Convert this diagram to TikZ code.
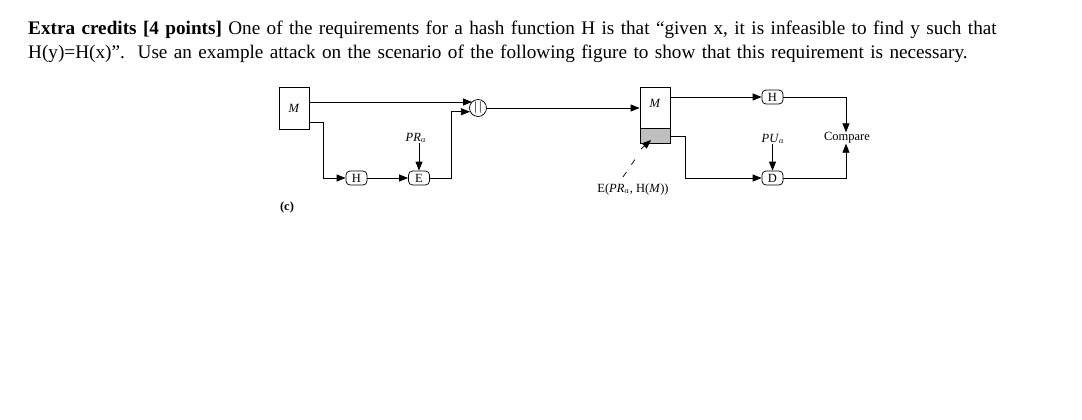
\documentclass[tikz,border=0pt]{standalone}
\usepackage{fontspec}
\setmainfont{Liberation Serif}
\usetikzlibrary{arrows.meta}
\begin{document}
\begin{tikzpicture}[x=1pt,y=-1pt,
  ln/.style={line width=0.75pt},
  ar/.style={ln,-{Triangle[length=9pt,width=7pt]}},
  op/.style={draw,ln,rounded corners=4pt,minimum width=21pt,minimum height=14pt,inner sep=0pt,font=\fontsize{12.5}{12}\selectfont},
  lb/.style={font=\fontsize{12.5}{13}\selectfont,inner sep=0pt}]
\useasboundingbox (0,0) rectangle (1082,420);
\node[anchor=north west,text width=1010pt,align=left,inner sep=0pt,font=\fontsize{19.2}{24}\selectfont] (hdr) at (28,21)
 {\textbf{Extra credits [4 points]} One of the requirements for a hash function H is that “given x, it is infeasible to find y such that H(y)=H(x)”.\ \ Use an example attack on the scenario of the following figure to show that this requirement is necessary.};
% sender
\node[draw,ln,minimum width=30pt,minimum height=42pt,inner sep=0pt,lb] (m1) at (294,108.5) {\textit{M}};
\node[draw,ln,circle,minimum size=17pt,inner sep=0pt,lb] (cc) at (478,108) {|\,|};
\node[op] (h1) at (356.5,178) {H};
\node[op] (e1) at (419,178) {E};
\node[lb] (pra) at (416,138) {\textit{PR}$_a$};
\node[lb,font=\fontsize{12.5}{13}\selectfont\bfseries] (c) at (287,207) {(c)};
\coordinate (j1) at (472,102);
\draw[ar] (m1.east |- j1) -- (j1);
\draw[ar] (m1.east |- 0,122) -- (323,122) -- (323,178) -- (h1.west);
\draw[ar] (h1) -- (e1);
\draw[ar] (pra.south -| e1.north) -- (e1.north);
\draw[ar] (e1.east) -- (451,178) |- (cc.205);
% receiver
\node[draw,ln,minimum width=30pt,minimum height=41pt,inner sep=0pt,lb] (m2) at (655,107.5) {\raisebox{8pt}{\textit{M}}};
\node[draw,ln,fill=black!25,minimum width=30pt,minimum height=15pt,inner sep=0pt,anchor=north] (g2) at (m2.south) {};
\draw[ar] (cc) -- (m2.west |- cc);
\node[lb] (sig) at (633,189) {E(\textit{PR}$_a$, H(\textit{M}))};
\draw[ln,dash pattern=on 6pt off 9pt] (623,177) -- (638,155);
\coordinate (tip) at (651,140);
\draw[ar] (641,149) -- (tip);
\node[op] (h2) at (772.5,97) {H};
\node[op] (d2) at (772.5,178) {D};
\node[lb] (pua) at (773,139) {\textit{PU}$_a$};
\node[lb] (cmp) at (847,138) {Compare};
\draw[ar] (m2.east |- h2) -- (h2.west);
\draw[ar] (h2.east) -- (846,97) -- (cmp.north -| 846,0);
\draw[ar] (pua.south -| d2.north) -- (d2.north);
\draw[ar] (g2.east) -- (g2.east -| 685,0) -- (685,178) -- (d2.west);
\draw[ar] (d2.east) -- (846,178) -- (cmp.south -| 846,0);
\end{tikzpicture}
\end{document}
